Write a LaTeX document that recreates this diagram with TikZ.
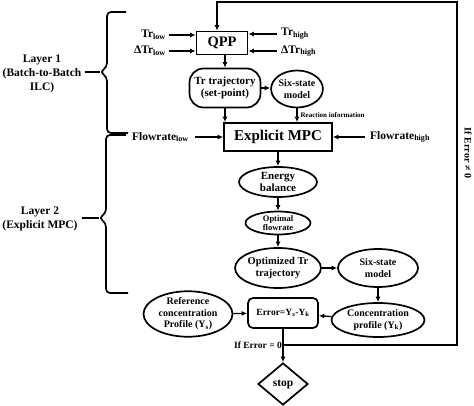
\documentclass[tikz,border=0pt]{standalone}
\usepackage{fontspec}
\setmainfont{Liberation Serif}
\usepackage{tikz}
\usetikzlibrary{arrows.meta, shapes.geometric, positioning}

\begin{document}
\begin{tikzpicture}[x=1pt, y=-1pt,
    every node/.style={font=\bfseries, align=center, inner sep=0pt},
    box/.style={draw, line width=1.7pt, inner sep=2pt},
    oval/.style={draw, ellipse, line width=1.7pt, inner sep=0pt},
    arr/.style={-{Latex[length=5.5pt,width=5pt]}, line width=1.3pt},
    side/.style={font=\bfseries\fontsize{11.5}{13}\selectfont},
    brace/.style={line width=1.7pt, rounded corners=4pt}]
    \useasboundingbox (0,0) rectangle (474,406);

    % Layer 1: batch-to-batch ILC
    \node[box, minimum width=51pt, minimum height=23pt, font=\bfseries\fontsize{14.5}{16}\selectfont] (qpp) at (222,43) {QPP};
    \node[side, anchor=east] (trlow) at (166,35) {Tr\textsubscript{low}};
    \node[side, anchor=east] (dtrlow) at (166,51) {ΔTr\textsubscript{low}};
    \node[side, anchor=west] (trhigh) at (281,34) {Tr\textsubscript{high}};
    \node[side, anchor=west] (dtrhigh) at (281,51) {ΔTr\textsubscript{high}};
    \draw[arr] ([xshift=3pt]trlow.east) -- (trlow.east -| qpp.west);
    \draw[arr] ([xshift=3pt]dtrlow.east) -- (dtrlow.east -| qpp.west);
    \draw[arr] ([xshift=-4pt]trhigh.west) -- (trhigh.west -| qpp.east);
    \draw[arr] ([xshift=-4pt]dtrhigh.west) -- (dtrhigh.west -| qpp.east);

    \node[box, rounded corners=14pt, minimum width=71pt, minimum height=39pt, font=\bfseries\fontsize{11}{12.5}\selectfont] (trtraj) at (225,88) {Tr trajectory\\(set-point)};
    \node[oval, minimum width=46pt, minimum height=37pt, font=\bfseries\fontsize{10}{11.5}\selectfont] (sixa) at (297,89) {Six-state\\model};
    \draw[arr] (qpp.south -| trtraj.north) -- (trtraj.north);
    \draw[arr] (trtraj.east) -- (trtraj.east -| sixa.west);

    \node[box, minimum width=108pt, minimum height=28pt, font=\bfseries\fontsize{15}{17}\selectfont] (mpc) at (278,137) {Explicit MPC};
    \draw[arr] (trtraj.south) -- (trtraj.south |- mpc.north);
    \draw[arr] (sixa.south) -- (sixa.south |- mpc.north)
        node (reacinfo) [midway, right=3pt, font=\bfseries\fontsize{7}{8}\selectfont] {Reaction information};
    \node[side, anchor=east] (flowlow) at (189,137) {Flowrate\textsubscript{low}};
    \node[side, anchor=west] (flowhigh) at (370,137) {Flowrate\textsubscript{high}};
    \draw[arr] ([xshift=6pt]flowlow.east) -- (mpc.west);
    \draw[arr] ([xshift=-5pt]flowhigh.west) -- (mpc.east);

    % Layer 2: explicit MPC
    \node[oval, minimum width=78pt, minimum height=30pt, font=\bfseries\fontsize{11}{12}\selectfont] (energy) at (278,182) {Energy\\balance};
    \node[oval, minimum width=65pt, minimum height=23pt, font=\bfseries\fontsize{8.5}{9.5}\selectfont] (optflow) at (278,223) {Optimal\\flowrate};
    \node[oval, minimum width=73pt, minimum height=40pt, font=\bfseries\fontsize{10.5}{12}\selectfont] (opttr) at (278,268) {Optimized Tr\\trajectory};
    \node[oval, minimum width=80pt, minimum height=38pt, font=\bfseries\fontsize{10}{11.5}\selectfont] (sixb) at (378,268) {Six-state\\model};
    \node[oval, minimum width=93pt, minimum height=34pt, font=\bfseries\fontsize{10}{11.5}\selectfont] (conc) at (378,320) {Concentration\\profile (Y\textsubscript{k})};
    \node[box, rounded corners=5pt, minimum width=70pt, minimum height=30pt, font=\bfseries\fontsize{9.5}{11}\selectfont] (err) at (283,313) {Error=Y\textsubscript{s}-Y\textsubscript{k}};
    \node[oval, minimum width=89pt, minimum height=38pt, font=\bfseries\fontsize{10}{11.5}\selectfont] (ref) at (188,314) {Reference\\concentration\\Profile (Y\textsubscript{s})};
    \node[draw, diamond, line width=1.7pt, minimum width=50pt, minimum height=42pt, font=\bfseries\fontsize{11.5}{13}\selectfont] (stop) at (283,384) {stop};

    \draw[arr] (mpc.south) -- (energy.north);
    \draw[arr] (energy) -- (optflow);
    \draw[arr] (optflow) -- (opttr);
    \draw[arr] (opttr) -- (sixb);
    \draw[arr] (sixb) -- (conc);
    \draw[arr] (ref) -- (err);
    \draw[arr] (conc) -- (err);
    \draw[arr] (err) -- (stop);

    % Feedback loop
    \coordinate (split) at (283,345);
    \coordinate (corner) at (457,345);
    \coordinate (topright) at (457,2);
    \node[anchor=east, font=\bfseries\fontsize{9.5}{11}\selectfont] (ifzero) at ([xshift=-1pt]split) {If Error = 0};
    \draw[arr, line width=1.6pt] (split) -- (corner) -- (topright) -| ([xshift=-5pt]qpp.north);
    \node[rotate=-90, font=\bfseries\fontsize{10}{11}\selectfont] (ifnot) at (468,153) {If Error ≠ 0};

    % Braces
    \draw[brace] (126,12) -| (107,67) -- (100,72) -- (107,77) |- (128,133);
    \draw[line width=1.7pt] (100,72) -- (85,72);
    \node[font=\bfseries\fontsize{11.5}{14}\selectfont] (layer1) at (42,74) {Layer 1\\(Batch-to-Batch\\ILC)};
    \draw[brace] (126,135) -| (106,213) -- (99,218) -- (106,223) |- (128,293);
    \draw[line width=1.7pt] (99,218) -- (82,218);
    \node[font=\bfseries\fontsize{11.5}{14}\selectfont] (layer2) at (40,219) {Layer 2\\(Explicit MPC)};
\end{tikzpicture}
\end{document}
